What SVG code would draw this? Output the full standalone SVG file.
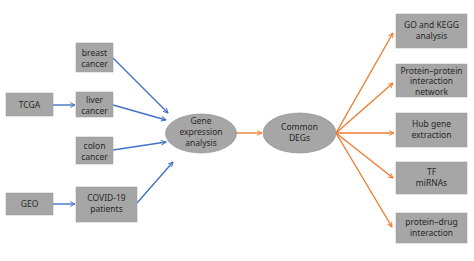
<svg xmlns="http://www.w3.org/2000/svg" width="474" height="261" viewBox="0 0 474 261">
<style>
.box{fill:#a6a6a6;stroke:#999999;stroke-width:0.5}
.ell{fill:#a6a6a6;stroke:#8c8c8c;stroke-width:0.6}
text{font-family:"Noto Sans","Open Sans","DejaVu Sans",sans-serif;font-size:8.5px;fill:#262626;text-anchor:middle}
.blue{stroke:#4472c4;stroke-width:1.4;fill:none;marker-end:url(#ab)}
.orange{stroke:#ed7d31;stroke-width:1.4;fill:none;marker-end:url(#ao)}
</style>
<defs>
<marker id="ab" viewBox="0 0 10 10" refX="9" refY="5" markerWidth="6" markerHeight="6" markerUnits="userSpaceOnUse" orient="auto"><polyline points="1,1 9,5 1,9" fill="none" stroke="#4472c4" stroke-width="1.6"/></marker>
<marker id="ao" viewBox="0 0 10 10" refX="9" refY="5" markerWidth="6" markerHeight="6" markerUnits="userSpaceOnUse" orient="auto"><polyline points="1,1 9,5 1,9" fill="none" stroke="#ed7d31" stroke-width="1.6"/></marker>
</defs>
<rect width="474" height="261" fill="#ffffff"/>
<g id="connectors">
<line class="blue" x1="53" y1="105" x2="75" y2="105"/>
<line class="blue" x1="53" y1="204" x2="75" y2="204"/>
<line class="blue" x1="113" y1="58" x2="168" y2="113"/>
<line class="blue" x1="113" y1="105" x2="166" y2="120"/>
<line class="blue" x1="113" y1="150" x2="166" y2="142"/>
<line class="blue" x1="137" y1="203" x2="173" y2="162"/>
<line class="orange" x1="236" y1="133" x2="262" y2="133"/>
<line class="orange" x1="336" y1="133" x2="393" y2="33"/>
<line class="orange" x1="336" y1="133" x2="393" y2="83"/>
<line class="orange" x1="336" y1="133" x2="394" y2="133"/>
<line class="orange" x1="336" y1="133" x2="393" y2="178"/>
<line class="orange" x1="336" y1="133" x2="392" y2="227"/>
</g>
<g id="breast"><rect class="box" x="76" y="43" width="37" height="29"/><text x="94.5" y="56">breast</text><text x="94.5" y="66.5">cancer</text></g>
<g id="tcga"><rect class="box" x="6" y="93" width="47" height="23"/><text x="29.5" y="107.5">TCGA</text></g>
<g id="liver"><rect class="box" x="76" y="92" width="37" height="25"/><text x="94.5" y="103">liver</text><text x="94.5" y="113.5">cancer</text></g>
<g id="colon"><rect class="box" x="76" y="137" width="37" height="27"/><text x="94.5" y="149">colon</text><text x="94.5" y="159.5">cancer</text></g>
<g id="geo"><rect class="box" x="6" y="193" width="47" height="22"/><text x="29.5" y="207">GEO</text></g>
<g id="covid"><rect class="box" x="76" y="187" width="61" height="35"/><text x="106.5" y="201">COVID-19</text><text x="106.5" y="212">patients</text></g>
<g id="gene"><ellipse class="ell" cx="201" cy="133.5" rx="35.5" ry="19.5"/><text x="201" y="124">Gene</text><text x="201" y="135">expression</text><text x="201" y="146">analysis</text></g>
<g id="common"><ellipse class="ell" cx="299.5" cy="133" rx="36.5" ry="20"/><text x="299.5" y="130">Common</text><text x="299.5" y="141">DEGs</text></g>
<g id="go"><rect class="box" x="396" y="14" width="71" height="34"/><text x="431.5" y="28">GO and KEGG</text><text x="431.5" y="39">analysis</text></g>
<g id="ppi"><rect class="box" x="396" y="64" width="71" height="33"/><text x="431.5" y="73.5">Protein–protein</text><text x="431.5" y="84">interaction</text><text x="431.5" y="94.5">network</text></g>
<g id="hub"><rect class="box" x="396" y="113" width="71" height="34"/><text x="431.5" y="127">Hub gene</text><text x="431.5" y="138">extraction</text></g>
<g id="tf"><rect class="box" x="396" y="162" width="71" height="32"/><text x="431.5" y="175">TF</text><text x="431.5" y="186">miRNAs</text></g>
<g id="drug"><rect class="box" x="396" y="213" width="71" height="30"/><text x="431.5" y="225">protein–drug</text><text x="431.5" y="236">interaction</text></g>
</svg>
